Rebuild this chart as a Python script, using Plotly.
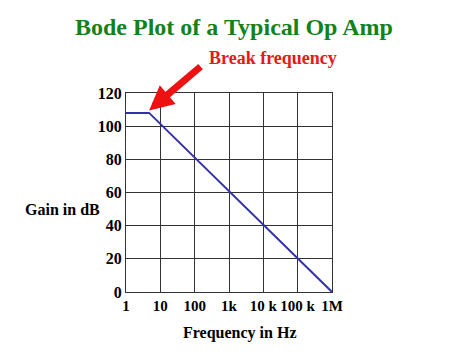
import math
import plotly.graph_objects as go

# Data
freq_hz = [1, 4.7, 1e6]
gain_db = [108, 108, 0]
x_tick_vals = [1, 10, 100, 1e3, 1e4, 1e5, 1e6]
x_tick_text = ["1", "10", "100", "1k", "10 k", "100 k", "1M"]
y_tick_vals = [0, 20, 40, 60, 80, 100, 120]

FONT = "Liberation Serif, Times New Roman, serif"

# page has an 8px body margin; figure sized to fill the remaining window
OFF = 8
W, H = 474 - OFF, 355 - OFF
L, T = 126 - OFF, 93 - OFF
PW, PH = 206, 199


def px(xp):
    return (xp - OFF - L) / PW


def py(yp):
    return 1 - (yp - OFF - T) / PH


fig = go.Figure()
fig.add_trace(go.Scatter(
    x=freq_hz, y=gain_db, mode="lines",
    line=dict(color="#3232a6", width=2),
    hoverinfo="skip", showlegend=False,
))

fig.update_layout(
    width=W, height=H,
    margin=dict(l=L, r=W - L - PW, t=T, b=H - T - PH, autoexpand=False),
    paper_bgcolor="white", plot_bgcolor="white",
    font=dict(family=FONT, color="black"),
    showlegend=False,
)
fig.update_xaxes(
    type="log", range=[0, 6],
    tickvals=x_tick_vals, ticktext=x_tick_text, tickangle=0,
    tickfont=dict(family=FONT, size=15, color="black", weight="bold"),
    showgrid=True, gridcolor="#333333", gridwidth=1,
    showline=True, linecolor="#333333", linewidth=1, mirror=True,
    ticks="", ticklen=0, zeroline=False, automargin=False,
)
fig.update_yaxes(
    range=[0, 120],
    tickvals=y_tick_vals,
    tickfont=dict(family=FONT, size=16, color="black", weight="bold"),
    showgrid=True, gridcolor="#333333", gridwidth=1,
    showline=True, linecolor="#333333", linewidth=1, mirror=True,
    ticks="", ticklen=2, zeroline=False, automargin=False,
)

# Title
fig.add_annotation(
    text="<b>Bode Plot of a Typical Op Amp</b>",
    xref="paper", yref="paper", x=px(234), y=py(27),
    xanchor="center", yanchor="middle", showarrow=False,
    font=dict(family=FONT, size=24, color="#14821a"),
)
# Break frequency label
fig.add_annotation(
    text="<b>Break frequency</b>",
    xref="paper", yref="paper", x=px(207), y=py(58),
    xanchor="left", yanchor="middle", showarrow=False,
    font=dict(family=FONT, size=18, color="#e81818"),
)
# Arrow to break point
fig.add_annotation(
    text="", xref="x", yref="y",
    x=math.log10(freq_hz[1]), y=gain_db[1] + 1.5,
    ax=53, ay=-45, showarrow=True,
    arrowcolor="#ee1111", arrowwidth=7, arrowhead=2, arrowsize=0.7,
)
# Axis titles
fig.add_annotation(
    text="<b>Gain in dB</b>",
    xref="paper", yref="paper", x=px(62), y=py(209),
    xanchor="center", yanchor="middle", showarrow=False,
    font=dict(family=FONT, size=16, color="black"),
)
fig.add_annotation(
    text="<b>Frequency in Hz</b>",
    xref="paper", yref="paper", x=px(239), y=py(333),
    xanchor="center", yanchor="middle", showarrow=False,
    font=dict(family=FONT, size=16, color="black"),
)

fig.write_html("out.html")
